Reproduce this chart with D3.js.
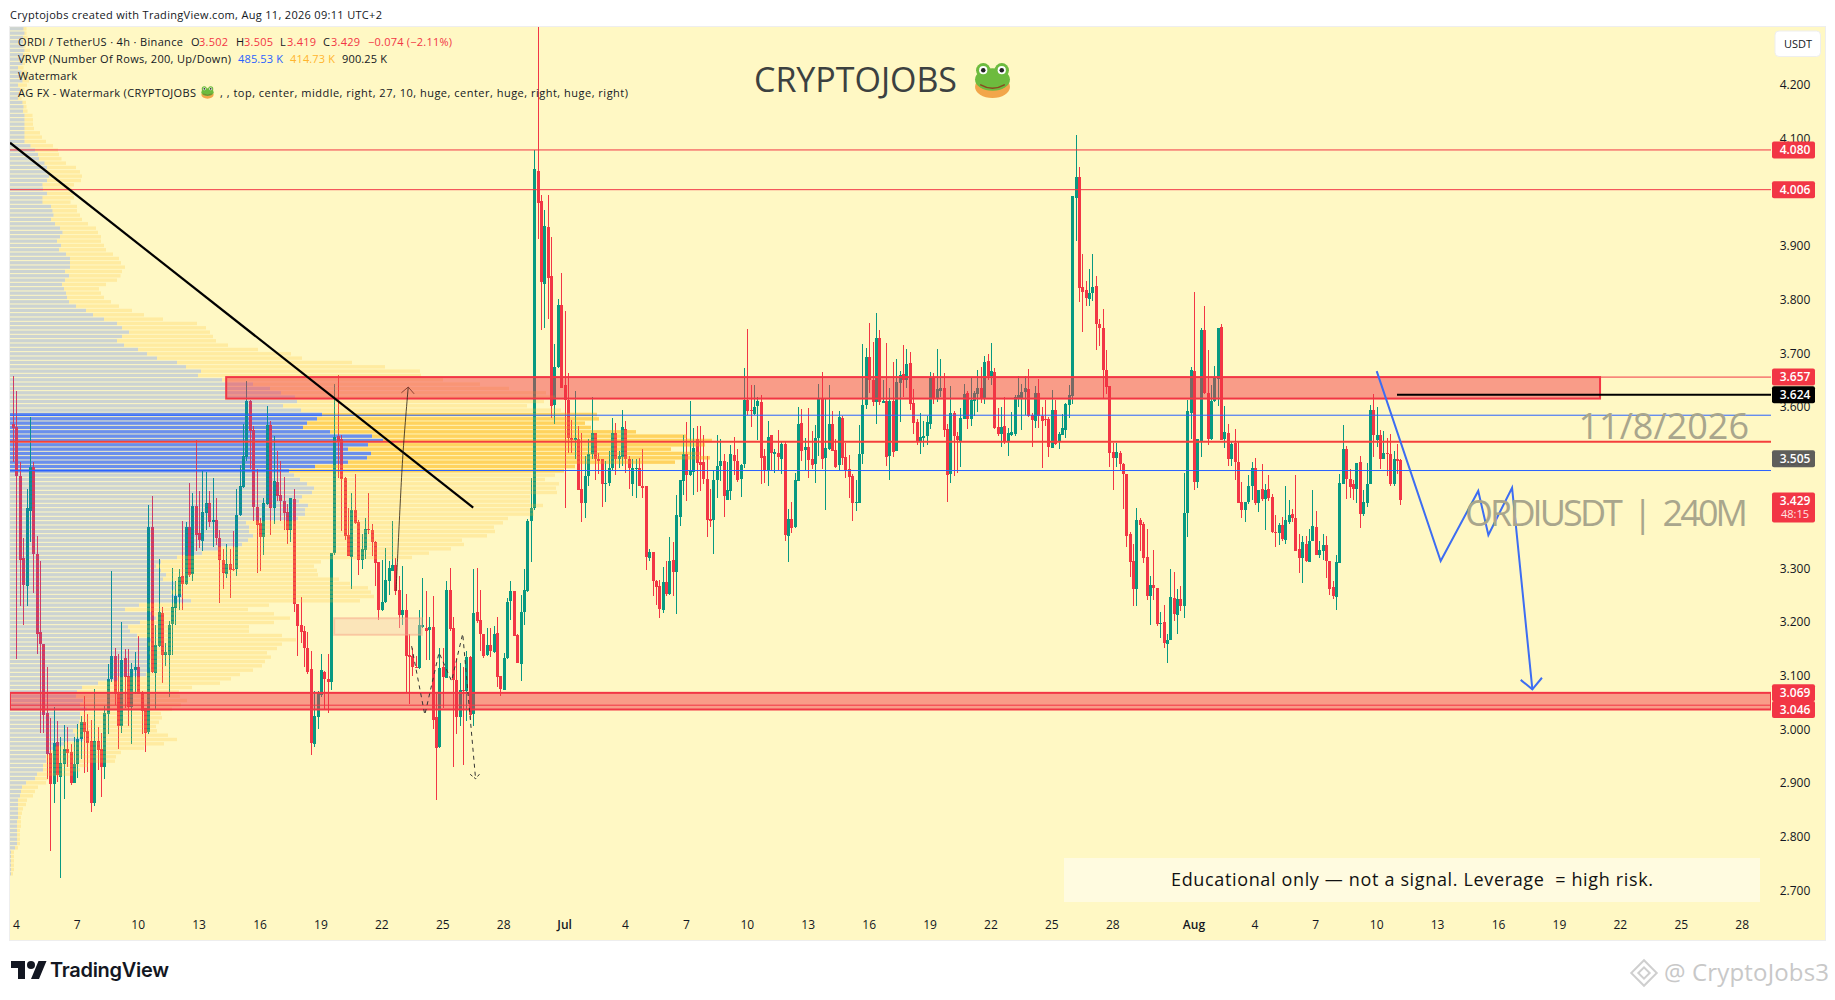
<!DOCTYPE html>
<html>
<head>
<meta charset="utf-8">
<title>ORDIUSDT 240M</title>
<script src="https://cdn.jsdelivr.net/npm/d3@7"></script>
<style>
  html, body { margin: 0; padding: 0; background: #fff; overflow: hidden; }
  text { font-family: "Open Sans", sans-serif; white-space: pre; }
</style>
</head>
<body>
<div id="chart"></div>
<script>
// 4h candles, bar 0 is the last bar of June 3
const candleOpen = [
  3.570,3.564,3.473,3.321,3.268,3.408,3.490,3.328,3.182,3.160,
  3.031,2.957,2.900,2.977,2.913,2.936,2.965,2.958,2.901,2.937,
  2.983,3.014,2.998,2.979,2.864,2.979,2.964,2.931,3.030,3.095,
  3.137,3.066,3.008,3.133,3.100,3.042,3.111,3.117,3.068,3.041,
  2.996,3.378,3.106,3.156,3.218,3.140,3.140,3.198,3.227,3.248,
  3.286,3.271,3.378,3.290,3.417,3.367,3.352,3.403,3.422,3.387,
  3.391,3.358,3.316,3.291,3.309,3.300,3.299,3.401,3.452,3.508,
  3.612,3.558,3.416,3.385,3.360,3.420,3.568,3.414,3.462,3.437,
  3.427,3.406,3.372,3.430,3.235,3.196,3.184,3.153,3.113,2.974,
  3.024,3.065,3.108,3.094,3.090,3.329,3.547,3.541,3.470,3.363,
  3.322,3.409,3.387,3.316,3.335,3.375,3.373,3.349,3.313,3.224,
  3.238,3.277,3.296,3.308,3.260,3.214,3.224,3.140,3.137,3.118,
  3.116,3.192,3.190,3.186,3.191,3.024,2.968,3.117,3.097,3.260,
  3.190,3.093,3.024,3.075,3.072,3.136,3.030,3.219,3.204,3.178,
  3.139,3.159,3.145,3.180,3.100,3.075,3.134,3.240,3.259,3.176,
  3.122,3.219,3.259,3.389,3.414,4.041,3.984,3.831,3.936,3.845,
  3.605,3.676,3.791,3.642,3.615,3.543,3.540,3.541,3.448,3.423,
  3.473,3.513,3.552,3.504,3.504,3.457,3.460,3.487,3.553,3.504,
  3.508,3.561,3.504,3.457,3.485,3.488,3.455,3.454,3.320,3.332,
  3.277,3.268,3.223,3.276,3.253,3.316,3.294,3.396,3.463,3.514,
  3.474,3.480,3.541,3.499,3.498,3.468,3.393,3.391,3.465,3.491,
  3.501,3.429,3.445,3.512,3.501,3.468,3.495,3.615,3.596,3.589,
  3.603,3.611,3.510,3.484,3.549,3.514,3.515,3.505,3.532,3.361,
  3.392,3.378,3.463,3.571,3.521,3.527,3.504,3.496,3.544,3.617,
  3.507,3.524,3.569,3.521,3.494,3.581,3.508,3.485,3.473,3.423,
  3.423,3.514,3.605,3.694,3.652,3.611,3.729,3.609,3.612,3.510,
  3.612,3.519,3.646,3.662,3.652,3.683,3.609,3.573,3.538,3.543,
  3.547,3.570,3.655,3.616,3.631,3.636,3.560,3.476,3.591,3.547,
  3.538,3.579,3.627,3.579,3.612,3.625,3.636,3.617,3.687,3.659,
  3.666,3.564,3.551,3.566,3.538,3.549,3.551,3.618,3.618,3.629,
  3.635,3.586,3.575,3.627,3.584,3.579,3.579,3.525,3.596,3.538,
  3.549,3.558,3.605,3.622,3.991,4.029,3.824,3.819,3.803,3.813,
  3.826,3.755,3.748,3.670,3.640,3.517,3.507,3.515,3.495,3.476,
  3.365,3.314,3.263,3.390,3.384,3.322,3.250,3.269,3.264,3.198,
  3.201,3.160,3.168,3.246,3.214,3.244,3.231,3.404,3.590,3.668,
  3.462,3.538,3.745,3.627,3.542,3.612,3.654,3.750,3.542,3.552,
  3.504,3.535,3.499,3.424,3.410,3.424,3.454,3.488,3.422,3.448,
  3.430,3.448,3.434,3.369,3.366,3.382,3.354,3.388,3.402,3.394,
  3.337,3.320,3.347,3.313,3.351,3.377,3.326,3.334,3.344,3.314,
  3.267,3.248,3.311,3.458,3.523,3.468,3.457,3.449,3.498,3.402,
  3.422,3.457,3.595,3.539,3.549,3.504,3.515,3.513,3.458,3.505,3.502
];
const candleHigh = [
  3.659,3.631,3.498,3.358,3.448,3.583,3.498,3.361,3.314,3.160,
  3.117,3.023,3.042,3.016,2.987,3.009,3.006,2.973,2.987,3.011,
  3.025,3.064,3.029,3.019,3.076,3.005,2.995,3.044,3.122,3.296,
  3.152,3.141,3.201,3.150,3.150,3.125,3.145,3.175,3.073,3.041,
  3.419,3.435,3.196,3.319,3.229,3.162,3.203,3.301,3.277,3.299,
  3.389,3.388,3.460,3.442,3.539,3.445,3.482,3.481,3.445,3.470,
  3.432,3.373,3.336,3.347,3.336,3.370,3.449,3.494,3.569,3.650,
  3.614,3.566,3.485,3.395,3.431,3.603,3.575,3.547,3.519,3.501,
  3.471,3.420,3.431,3.448,3.235,3.247,3.193,3.183,3.147,3.072,
  3.072,3.142,3.109,3.142,3.329,3.645,3.661,3.549,3.471,3.414,
  3.441,3.476,3.390,3.364,3.395,3.441,3.383,3.352,3.313,3.316,
  3.339,3.314,3.389,3.321,3.286,3.305,3.254,3.178,3.153,3.137,
  3.224,3.283,3.259,3.211,3.250,3.066,3.152,3.153,3.277,3.302,
  3.210,3.134,3.125,3.117,3.147,3.137,3.299,3.301,3.260,3.178,
  3.190,3.190,3.193,3.210,3.100,3.144,3.245,3.277,3.259,3.178,
  3.252,3.299,3.392,3.470,4.080,4.338,3.996,3.968,3.996,3.917,
  3.718,3.802,3.850,3.781,3.665,3.578,3.632,3.566,3.553,3.510,
  3.541,3.620,3.553,3.516,3.504,3.501,3.520,3.581,3.572,3.519,
  3.595,3.575,3.510,3.504,3.504,3.507,3.524,3.454,3.336,3.332,
  3.280,3.280,3.303,3.314,3.359,3.350,3.438,3.466,3.549,3.573,
  3.612,3.563,3.566,3.566,3.550,3.510,3.448,3.482,3.550,3.541,
  3.513,3.498,3.530,3.545,3.524,3.496,3.674,3.747,3.642,3.643,
  3.620,3.623,3.524,3.576,3.550,3.523,3.558,3.537,3.538,3.412,
  3.424,3.478,3.601,3.597,3.543,3.599,3.557,3.568,3.645,3.666,
  3.617,3.642,3.594,3.541,3.594,3.584,3.535,3.512,3.477,3.466,
  3.568,3.718,3.712,3.757,3.722,3.776,3.745,3.651,3.720,3.636,
  3.686,3.690,3.668,3.717,3.709,3.704,3.635,3.579,3.590,3.576,
  3.584,3.666,3.665,3.709,3.690,3.665,3.569,3.640,3.594,3.554,
  3.599,3.644,3.631,3.655,3.631,3.671,3.676,3.696,3.700,3.720,
  3.674,3.599,3.601,3.620,3.562,3.592,3.624,3.659,3.644,3.659,
  3.672,3.590,3.640,3.654,3.601,3.615,3.583,3.633,3.615,3.555,
  3.588,3.609,3.642,3.994,4.107,4.049,3.886,3.836,3.858,3.886,
  3.845,3.766,3.784,3.708,3.640,3.535,3.535,3.520,3.497,3.477,
  3.369,3.346,3.413,3.394,3.387,3.374,3.287,3.335,3.264,3.220,
  3.233,3.179,3.299,3.294,3.263,3.268,3.478,3.615,3.676,3.816,
  3.542,3.748,3.789,3.708,3.642,3.678,3.748,3.756,3.603,3.570,
  3.538,3.560,3.537,3.462,3.424,3.474,3.499,3.507,3.447,3.495,
  3.458,3.475,3.440,3.400,3.386,3.396,3.454,3.428,3.412,3.474,
  3.364,3.361,3.361,3.375,3.447,3.408,3.351,3.365,3.362,3.314,
  3.277,3.326,3.477,3.568,3.529,3.485,3.466,3.497,3.510,3.447,
  3.497,3.605,3.625,3.601,3.558,3.557,3.543,3.551,3.520,3.532,3.505
];
const candleLow = [
  3.498,3.132,3.231,3.195,3.231,3.350,3.255,3.142,2.995,2.995,
  2.908,2.774,2.864,2.903,2.724,2.872,2.931,2.898,2.901,2.911,
  2.945,2.920,2.922,2.847,2.859,2.926,2.875,2.909,2.993,3.090,
  3.046,2.964,2.995,3.041,3.007,2.974,3.066,3.066,2.993,2.959,
  2.993,3.106,3.038,3.154,3.088,3.119,3.061,3.140,3.195,3.224,
  3.224,3.270,3.285,3.277,3.334,3.338,3.334,3.372,3.377,3.340,
  3.344,3.237,3.262,3.283,3.245,3.296,3.286,3.398,3.450,3.501,
  3.485,3.389,3.293,3.296,3.325,3.419,3.363,3.383,3.426,3.389,
  3.373,3.347,3.350,3.220,3.137,3.162,3.117,3.104,2.953,2.968,
  3.002,3.062,3.038,3.032,3.075,3.326,3.470,3.370,3.354,3.324,
  3.263,3.383,3.288,3.299,3.319,3.364,3.324,3.268,3.204,3.221,
  3.237,3.252,3.296,3.252,3.189,3.196,3.069,3.049,3.100,3.116,
  3.114,3.190,3.131,3.131,3.001,2.869,2.967,3.041,3.097,3.185,
  2.931,2.993,3.007,2.934,3.016,3.019,3.007,3.199,3.147,3.134,
  3.137,3.136,3.144,3.080,3.064,3.074,3.132,3.204,3.174,3.125,
  3.091,3.196,3.257,3.313,3.410,3.914,3.745,3.749,3.766,3.580,
  3.569,3.674,3.636,3.414,3.516,3.516,3.504,3.446,3.387,3.395,
  3.454,3.504,3.466,3.476,3.415,3.424,3.454,3.482,3.474,3.488,
  3.491,3.479,3.448,3.435,3.432,3.454,3.432,3.297,3.314,3.249,
  3.232,3.209,3.218,3.249,3.252,3.249,3.216,3.379,3.437,3.426,
  3.473,3.438,3.443,3.445,3.458,3.359,3.378,3.328,3.432,3.463,
  3.396,3.428,3.428,3.474,3.461,3.434,3.488,3.586,3.564,3.586,
  3.540,3.457,3.460,3.454,3.483,3.479,3.483,3.477,3.352,3.313,
  3.367,3.376,3.463,3.501,3.483,3.470,3.485,3.460,3.510,3.486,
  3.409,3.522,3.519,3.487,3.483,3.494,3.470,3.432,3.389,3.407,
  3.423,3.496,3.598,3.627,3.604,3.570,3.605,3.609,3.491,3.465,
  3.508,3.519,3.574,3.620,3.637,3.596,3.551,3.530,3.514,3.527,
  3.530,3.561,3.606,3.611,3.620,3.545,3.424,3.460,3.473,3.478,
  3.489,3.579,3.560,3.566,3.584,3.592,3.609,3.607,3.651,3.642,
  3.560,3.547,3.527,3.532,3.510,3.547,3.547,3.601,3.558,3.586,
  3.583,3.527,3.562,3.562,3.488,3.566,3.508,3.525,3.530,3.523,
  3.549,3.543,3.581,3.607,3.910,3.797,3.741,3.789,3.789,3.799,
  3.708,3.715,3.617,3.625,3.490,3.447,3.490,3.482,3.412,3.341,
  3.284,3.231,3.231,3.334,3.311,3.241,3.196,3.241,3.194,3.172,
  3.152,3.124,3.168,3.203,3.178,3.222,3.208,3.360,3.542,3.446,
  3.450,3.509,3.625,3.531,3.540,3.610,3.603,3.540,3.525,3.492,
  3.492,3.466,3.422,3.394,3.387,3.420,3.428,3.419,3.406,3.427,
  3.372,3.427,3.366,3.341,3.345,3.352,3.346,3.384,3.387,3.333,
  3.292,3.274,3.313,3.313,3.351,3.326,3.321,3.317,3.283,3.251,
  3.243,3.224,3.311,3.457,3.430,3.432,3.428,3.422,3.376,3.398,
  3.416,3.457,3.509,3.527,3.485,3.504,3.472,3.455,3.455,3.477,3.419
];
const candleClose = [
  3.563,3.472,3.316,3.270,3.413,3.490,3.328,3.179,3.160,3.027,
  2.955,2.900,2.975,2.916,2.938,2.965,2.957,2.901,2.936,2.983,
  3.014,2.996,2.976,2.864,2.979,2.963,2.931,3.031,3.095,3.137,
  3.066,3.008,3.131,3.099,3.042,3.113,3.117,3.066,3.036,2.995,
  3.378,3.108,3.158,3.219,3.140,3.145,3.196,3.229,3.249,3.285,
  3.271,3.378,3.288,3.417,3.363,3.353,3.406,3.422,3.387,3.391,
  3.358,3.316,3.293,3.309,3.298,3.298,3.401,3.454,3.510,3.612,
  3.557,3.416,3.382,3.360,3.422,3.568,3.414,3.463,3.435,3.426,
  3.403,3.372,3.431,3.235,3.193,3.182,3.153,3.108,2.976,3.026,
  3.069,3.111,3.094,3.090,3.329,3.546,3.538,3.467,3.362,3.324,
  3.409,3.386,3.316,3.336,3.375,3.372,3.349,3.310,3.224,3.238,
  3.279,3.301,3.308,3.259,3.214,3.223,3.137,3.136,3.117,3.116,
  3.195,3.195,3.185,3.191,3.019,2.967,3.116,3.099,3.260,3.188,
  3.092,3.024,3.074,3.072,3.136,3.027,3.218,3.203,3.178,3.138,
  3.159,3.147,3.179,3.098,3.077,3.134,3.238,3.259,3.175,3.125,
  3.220,3.260,3.389,3.413,4.045,3.982,3.835,3.938,3.842,3.603,
  3.676,3.792,3.637,3.614,3.544,3.540,3.544,3.446,3.423,3.473,
  3.513,3.553,3.504,3.501,3.458,3.460,3.487,3.553,3.504,3.510,
  3.564,3.504,3.488,3.488,3.488,3.455,3.451,3.322,3.332,3.277,
  3.266,3.225,3.275,3.253,3.314,3.294,3.400,3.466,3.514,3.474,
  3.482,3.525,3.497,3.494,3.468,3.391,3.389,3.465,3.491,3.501,
  3.435,3.447,3.514,3.501,3.465,3.494,3.615,3.594,3.594,3.601,
  3.612,3.507,3.484,3.545,3.516,3.518,3.508,3.532,3.363,3.392,
  3.376,3.465,3.569,3.519,3.527,3.503,3.494,3.543,3.617,3.505,
  3.525,3.569,3.519,3.489,3.583,3.507,3.484,3.471,3.423,3.424,
  3.514,3.605,3.694,3.652,3.611,3.729,3.611,3.612,3.508,3.612,
  3.517,3.648,3.661,3.652,3.681,3.607,3.571,3.538,3.545,3.548,
  3.573,3.655,3.617,3.635,3.636,3.559,3.475,3.591,3.547,3.540,
  3.581,3.625,3.579,3.614,3.627,3.636,3.617,3.685,3.659,3.668,
  3.562,3.551,3.564,3.538,3.552,3.555,3.620,3.624,3.629,3.636,
  3.584,3.577,3.627,3.584,3.575,3.577,3.527,3.596,3.532,3.551,
  3.562,3.607,3.624,3.994,4.029,3.823,3.816,3.804,3.813,3.825,
  3.755,3.748,3.671,3.638,3.515,3.507,3.517,3.495,3.476,3.362,
  3.313,3.263,3.390,3.382,3.321,3.250,3.269,3.264,3.198,3.200,
  3.162,3.167,3.248,3.216,3.244,3.231,3.404,3.593,3.670,3.462,
  3.542,3.745,3.627,3.542,3.613,3.656,3.748,3.540,3.555,3.504,
  3.533,3.499,3.422,3.410,3.424,3.454,3.488,3.422,3.447,3.430,
  3.447,3.432,3.369,3.367,3.382,3.355,3.390,3.400,3.394,3.334,
  3.320,3.349,3.314,3.351,3.379,3.326,3.335,3.344,3.314,3.263,
  3.250,3.313,3.459,3.523,3.468,3.453,3.449,3.497,3.402,3.424,
  3.458,3.595,3.550,3.549,3.505,3.515,3.513,3.458,3.505,3.501,3.429
];

// volume profile rows, top row first, volumes in thousands (estimated)
const vrvpUp = [
  .27,.29,.26,.26,.27,.29,.26,.25,.25,.16,.23,.21,.25,.16,.20,.18,.16,.25,.27,.26,
  .29,.29,.29,.29,.29,.29,.29,.41,.50,.56,.58,.69,.74,.74,.78,.74,.65,.66,.74,.65,
  .65,.82,.85,.87,.82,.90,1.00,1.05,1.00,.94,1.02,.98,1.12,1.20,1.20,1.20,1.10,1.18,1.10,1.04,
  1.08,1.12,1.14,1.18,1.32,1.52,1.66,1.88,2.14,2.24,2.38,2.24,2.14,2.28,2.56,2.74,2.94,3.34,3.52,3.82,
  3.76,4.24,4.86,5.20,5.42,5.70,5.74,5.46,5.82,
  6.24,6.14,5.94,5.86,6.40,7.24,7.46,7.16,6.76,7.22,7.14,6.76,6.10,
  5.58,5.68,5.80,5.94,6.08,6.04,5.84,5.78,5.96,5.90,5.90,5.76,4.72,4.78,4.78,4.86,4.76,4.64,4.16,3.84,3.34,
  3.02,2.92,3.02,3.12,3.06,3.30,3.30,3.22,3.44,3.62,2.58,2.30,2.84,2.92,2.60,2.36,2.40,2.54,2.82,2.76,
  2.80,2.78,2.80,2.78,2.78,2.80,2.72,2.16,1.76,1.44,
  1.34,1.32,1.46,1.40,1.54,1.40,1.40,1.38,1.36,1.26,1.30,1.46,1.08,.90,.80,.72,.72,.66,.66,.54,
  .50,.32,.24,.22,.20,.16,.16,.16,.16,.16,.14,.14,.14,.14,.14,.14,.10,.02,.02,.02,.02,.02,.02
];
const vrvpDown = [
  .06,.04,.09,.05,.04,.11,.12,.09,.05,.11,.11,.17,.13,.18,.09,.09,.07,.07,.06,.09,
  .16,.17,.17,.19,.31,.35,.43,.45,.46,.42,.45,.43,.58,.66,.66,.68,.63,.57,.53,.63,
  .56,.52,.49,.53,.62,.66,.72,.71,.82,.88,.86,.94,.94,.98,1.02,1.10,1.14,1.03,1.04,.88,
  .70,.70,.74,.84,.86,.92,1.02,1.18,1.60,1.68,1.62,1.82,1.98,2.08,2.40,2.88,2.90,3.50,3.98,4.38,
  4.46,4.42,4.54,4.78,5.30,5.20,4.94,4.88,5.20,
  5.50,5.64,5.56,5.76,6.12,6.30,6.58,6.74,6.46,6.58,6.86,6.54,5.20,
  5.50,5.22,4.90,5.04,4.84,4.90,4.56,4.62,4.70,4.58,4.58,4.20,5.14,4.90,4.92,4.68,4.28,4.44,4.66,4.54,4.70,
  3.20,3.16,3.12,3.04,3.52,3.50,3.86,4.00,3.84,3.38,2.60,2.46,2.44,2.68,2.68,2.42,2.38,2.90,2.90,2.68,
  2.54,2.36,2.42,2.32,2.26,2.06,1.88,2.26,2.44,2.20,
  2.04,2.08,2.08,2.02,1.70,1.62,1.64,1.60,1.56,1.68,1.86,1.88,2.00,1.78,1.42,1.40,1.38,.90,.74,.72,
  .26,.40,.32,.28,.26,.18,.16,.10,.08,.06,.08,.08,.06,.06,.06,.06,.06,.06,.06,.06,.06,.06,.04
];
const vrvpBottomPrice = 2.727;
const vrvpRowStep = 0.00807;
const vrvpValueAreaTop = 3.589;    // rows inside this band are the value area
const vrvpValueAreaBottom = 3.481;

const priceTicks = [4.2,4.1,4.0,3.9,3.8,3.7,3.6,3.5,3.4,3.3,3.2,3.1,3.0,2.9,2.8,2.7];
const xTickDays = [0,3,6,9,12,15,18,21,24,27,30,33,36,39,42,45,48,51,54,58,61,64,67,70,73,76,79,82,85];
const xTickLabels = ['4','7','10','13','16','19','22','25','28','Jul','4','7','10','13','16','19','22','25','28','Aug','4','7','10','13','16','19','22','25','28'];

// horizontal levels and the two boxes
const redLevels = [4.080, 4.006];
const blueLevels = [3.586, 3.483];
const thickRedLevel = 3.5367;
const blackLevel = 3.624;
const upperZone = { top: 3.657, bottom: 3.617, fromBar: 63, toBar: 469 };
const lowerZone = { top: 3.069, bottom: 3.038, inner: 3.046 };
const paleBox = { top: 3.208, bottom: 3.177, fromBar: 94.9, toBar: 120.8 };

// hand drawn lines, [bar, price]
const trendLine = [[-0.9, 4.0935], [136, 3.414]];
const thinArrow = [[113.2, 3.2587], [115.2, 3.51], [116.8, 3.6385]];
const dashedPath = [[117.8, 3.156], [121.7, 3.028], [125.9, 3.144], [129.6, 3.091], [132.9, 3.179], [136.7, 2.909]];
const bluePath = [[403, 3.668], [421.9, 3.3145], [433, 3.445], [436, 3.363], [443, 3.451], [449, 3.0756]];

const RED = '#f23645', GREEN = '#089981', BLUE = '#2962ff';
const PLOT = { left: 10, right: 1771, top: 27, bottom: 905 };

const priceScale = d3.scaleLinear().domain([2.7, 4.2]).range([891, 85.5]);
const barScale = d3.scaleLinear().domain([0, 410]).range([13, 1400.4]);
const volumeScale = d3.scaleLinear().domain([0, 14.04]).range([10, 712]);

const svg = d3.select('#chart').append('svg')
  .attr('width', 1835).attr('height', 1000)
  .style('display', 'block');

svg.append('defs').append('clipPath').attr('id', 'plot')
  .append('rect')
  .attr('x', PLOT.left).attr('y', PLOT.top)
  .attr('width', PLOT.right - PLOT.left).attr('height', PLOT.bottom - PLOT.top);

// pane background
svg.append('rect')
  .attr('x', 9.5).attr('y', 26.5).attr('width', 1816).attr('height', 914)
  .attr('fill', '#fff8c4').attr('stroke', '#eeeeee');

const pane = svg.append('g').attr('clip-path', 'url(#plot)');

// profile rows, built once from the arrays
const vrvpRows = vrvpUp.map((up, i) => {
  const fromBottom = vrvpUp.length - 1 - i;
  const top = vrvpBottomPrice + (fromBottom + 1) * vrvpRowStep;
  const mid = top - vrvpRowStep / 2;
  return {
    top, up, down: vrvpDown[i],
    inValueArea: mid <= vrvpValueAreaTop && mid >= vrvpValueAreaBottom
  };
});
const rowHeight = priceScale(0) - priceScale(vrvpRowStep) - 1;

function drawRows(layer, rows, upColor, downColor) {
  layer.selectAll('rect.up').data(rows).enter().append('rect')
    .attr('class', 'up')
    .attr('x', volumeScale(0))
    .attr('y', d => priceScale(d.top))
    .attr('width', d => volumeScale(d.up) - volumeScale(0))
    .attr('height', rowHeight)
    .attr('fill', upColor);
  layer.selectAll('rect.down').data(rows).enter().append('rect')
    .attr('class', 'down')
    .attr('x', d => volumeScale(d.up))
    .attr('y', d => priceScale(d.top))
    .attr('width', d => volumeScale(d.down) - volumeScale(0))
    .attr('height', rowHeight)
    .attr('fill', downColor);
}

// value area gets a stronger layer under the candles, everything gets a thin one on top
drawRows(pane.append('g'), vrvpRows.filter(d => d.inValueArea), 'rgba(41,98,255,0.6)', 'rgba(255,195,50,0.6)');

const candles = candleOpen.map((open, i) => ({
  i, open, high: candleHigh[i], low: candleLow[i], close: candleClose[i]
}));
const candleColor = d => d.close >= d.open ? GREEN : RED;

const candleLayer = pane.append('g').attr('shape-rendering', 'crispEdges');
candleLayer.selectAll('rect.wick').data(candles).enter().append('rect')
  .attr('class', 'wick')
  .attr('x', d => Math.round(barScale(d.i)))
  .attr('y', d => priceScale(d.high))
  .attr('width', 1)
  .attr('height', d => priceScale(d.low) - priceScale(d.high))
  .attr('fill', candleColor);
candleLayer.selectAll('rect.body').data(candles).enter().append('rect')
  .attr('class', 'body')
  .attr('x', d => Math.round(barScale(d.i)) - 1)
  .attr('y', d => priceScale(Math.max(d.open, d.close)))
  .attr('width', 3)
  .attr('height', d => Math.max(1, Math.abs(priceScale(d.open) - priceScale(d.close))))
  .attr('fill', candleColor);

drawRows(pane.append('g'), vrvpRows, 'rgba(41,98,255,0.24)', 'rgba(255,195,50,0.25)');

// pale box
pane.append('rect')
  .attr('x', barScale(paleBox.fromBar)).attr('y', priceScale(paleBox.top))
  .attr('width', barScale(paleBox.toBar) - barScale(paleBox.fromBar))
  .attr('height', priceScale(paleBox.bottom) - priceScale(paleBox.top))
  .attr('fill', 'rgba(244,200,170,0.4)')
  .attr('stroke', 'rgba(247,160,130,0.45)').attr('stroke-width', 2);

// zones
const zoneRightEdge = barScale(upperZone.toBar);
pane.append('rect')
  .attr('x', barScale(upperZone.fromBar)).attr('y', priceScale(upperZone.top))
  .attr('width', zoneRightEdge - barScale(upperZone.fromBar))
  .attr('height', priceScale(upperZone.bottom) - priceScale(upperZone.top))
  .attr('fill', 'rgba(242,54,69,0.47)').attr('stroke', RED).attr('stroke-width', 2);
pane.append('rect')
  .attr('x', PLOT.left).attr('y', priceScale(lowerZone.top))
  .attr('width', PLOT.right - PLOT.left)
  .attr('height', priceScale(lowerZone.bottom) - priceScale(lowerZone.top))
  .attr('fill', 'rgba(242,54,69,0.47)').attr('stroke', RED).attr('stroke-width', 2);

function hLine(price, color, width, x1, x2) {
  pane.append('line')
    .attr('x1', x1 === undefined ? PLOT.left : x1)
    .attr('x2', x2 === undefined ? PLOT.right : x2)
    .attr('y1', priceScale(price)).attr('y2', priceScale(price))
    .attr('stroke', color).attr('stroke-width', width);
}
redLevels.forEach(p => hLine(p, RED, 1));
blueLevels.forEach(p => hLine(p, BLUE, 1));
hLine(thickRedLevel, '#f4403c', 2);
hLine(lowerZone.inner, RED, 1);
hLine(upperZone.top, RED, 1, zoneRightEdge, PLOT.right);
hLine(blackLevel, '#000', 2, 1397, PLOT.right);

// drawings
const drawingLine = d3.line().x(d => barScale(d[0])).y(d => priceScale(d[1]));
function pathEnd(points) {
  const last = points[points.length - 1], prev = points[points.length - 2];
  const x = barScale(last[0]), y = priceScale(last[1]);
  return { x, y, angle: Math.atan2(y - priceScale(prev[1]), x - barScale(prev[0])) };
}
function arrowHead(points, size, color, width, dash, spread) {
  const end = pathEnd(points);
  const open = spread || 2.55;
  const wing = a => [end.x + size * Math.cos(end.angle + a), end.y + size * Math.sin(end.angle + a)];
  const w1 = wing(open), w2 = wing(-open);
  pane.append('path')
    .attr('d', `M${w1[0]},${w1[1]}L${end.x},${end.y}L${w2[0]},${w2[1]}`)
    .attr('fill', 'none').attr('stroke', color).attr('stroke-width', width)
    .attr('stroke-dasharray', dash || null);
}

pane.append('path').attr('d', drawingLine(trendLine))
  .attr('fill', 'none').attr('stroke', '#000').attr('stroke-width', 2.2);

pane.append('path').attr('d', d3.line().x(d => barScale(d[0])).y(d => priceScale(d[1])).curve(d3.curveCatmullRom)(thinArrow))
  .attr('fill', 'none').attr('stroke', 'rgba(40,30,20,0.8)').attr('stroke-width', 1);
arrowHead(thinArrow, 9, 'rgba(120,50,40,0.85)', 1, null, 2.35);

pane.append('path').attr('d', drawingLine(dashedPath))
  .attr('fill', 'none').attr('stroke', '#333').attr('stroke-width', 1).attr('stroke-dasharray', '4 4');
arrowHead(dashedPath, 7, '#333', 1, '3 2', 2.35);

pane.append('path').attr('d', drawingLine(bluePath))
  .attr('fill', 'none').attr('stroke', '#3d6df2').attr('stroke-width', 2);
arrowHead(bluePath, 15, '#3d6df2', 2, null, 2.35);

// watermarks
svg.append('text').attr('x', 1749).attr('y', 439)
  .attr('text-anchor', 'end').attr('font-size', 36).attr('fill', '#a9a68c')
  .text('11/8/2026');
svg.append('text').attr('x', 1465).attr('y', 526)
  .attr('font-size', 36).attr('fill', '#a9a68c')
  .attr('textLength', 283)
  .text('ORDIUSDT  |  240M');
svg.append('text').attr('x', 754).attr('y', 92)
  .attr('font-size', 34).attr('fill', '#3c4140').attr('textLength', 203)
  .text('CRYPTOJOBS');

function drawFrog(x, y, size) {
  const g = svg.append('g').attr('transform', `translate(${x},${y}) scale(${size / 36})`);
  g.append('ellipse').attr('cx', 18).attr('cy', 24).attr('rx', 17).attr('ry', 11).attr('fill', '#f2a64a');
  g.append('ellipse').attr('cx', 18).attr('cy', 17).attr('rx', 17).attr('ry', 11).attr('fill', '#6dbb3e');
  g.append('circle').attr('cx', 9).attr('cy', 8).attr('r', 7).attr('fill', '#6dbb3e');
  g.append('circle').attr('cx', 27).attr('cy', 8).attr('r', 7).attr('fill', '#6dbb3e');
  g.append('circle').attr('cx', 9).attr('cy', 8).attr('r', 4).attr('fill', '#fff');
  g.append('circle').attr('cx', 27).attr('cy', 8).attr('r', 4).attr('fill', '#fff');
  g.append('circle').attr('cx', 9).attr('cy', 8).attr('r', 2.2).attr('fill', '#222');
  g.append('circle').attr('cx', 27).attr('cy', 8).attr('r', 2.2).attr('fill', '#222');
  g.append('path').attr('d', 'M6 22 Q18 29 30 22').attr('fill', 'none').attr('stroke', '#8a4a20').attr('stroke-width', 1.4);
}
drawFrog(974, 62, 37);

// disclaimer
svg.append('rect').attr('x', 1064).attr('y', 858).attr('width', 696).attr('height', 44).attr('fill', '#fffbe0');
svg.append('text').attr('x', 1412).attr('y', 880).attr('dy', '.35em')
  .attr('text-anchor', 'middle').attr('font-size', 18).attr('fill', '#111').attr('textLength', 482)
  .text('Educational only — not a signal. Leverage  = high risk.');

// axes
const yAxis = svg.append('g').attr('transform', 'translate(1795,-1)')
  .call(d3.axisRight(priceScale).tickValues(priceTicks).tickSize(0).tickFormat(d3.format('.3f')));
const xAxis = svg.append('g').attr('transform', 'translate(-0.5,925)')
  .call(d3.axisBottom(barScale).tickValues(xTickDays.map(d => 1 + d * 6)).tickSize(0).tickFormat((d, i) => xTickLabels[i]));
[yAxis, xAxis].forEach(a => {
  a.select('.domain').remove();
  a.attr('font-family', null).attr('font-size', null);
  a.selectAll('text')
    .attr('x', 0).attr('y', 0).attr('dy', '.35em')
    .attr('text-anchor', 'middle')
    .attr('fill', '#131722')
    .style('font-size', '12px');
});
xAxis.selectAll('text').filter(function() { return /[A-Z]/.test(this.textContent); })
  .style('font-weight', 600);

// price tags on the scale
function priceTag(y, label, fill, opacity) {
  svg.append('rect').attr('x', 1772).attr('y', y - 8.5).attr('width', 43).attr('height', 17).attr('rx', 2)
    .attr('fill', fill).attr('opacity', opacity || 1);
  svg.append('text').attr('x', 1795).attr('y', y).attr('dy', '.35em').attr('text-anchor', 'middle')
    .attr('font-size', 12).attr('font-weight', 600).attr('fill', '#fff').text(label);
}
priceTag(priceScale(4.080), '4.080', RED);
priceTag(priceScale(4.006), '4.006', RED);
priceTag(priceScale(3.657), '3.657', RED);
priceTag(priceScale(3.624), '3.624', '#000');
priceTag(priceScale(3.505), '3.505', '#555', 0.95);
priceTag(priceScale(3.069), '3.069', RED);
priceTag(priceScale(lowerZone.bottom), '3.046', RED);
// last price with countdown
svg.append('rect').attr('x', 1772).attr('y', priceScale(3.429) - 7).attr('width', 43).attr('height', 30).attr('rx', 2).attr('fill', RED);
svg.append('text').attr('x', 1795).attr('y', priceScale(3.429) + 1).attr('dy', '.35em').attr('text-anchor', 'middle')
  .attr('font-size', 12).attr('font-weight', 600).attr('fill', '#fff').text('3.429');
svg.append('text').attr('x', 1795).attr('y', priceScale(3.429) + 15).attr('dy', '.35em').attr('text-anchor', 'middle')
  .attr('font-size', 11).attr('fill', '#ffe3e3').text('48:15');

// USDT button
svg.append('rect').attr('x', 1775).attr('y', 31).attr('width', 45.5).attr('height', 25.5).attr('rx', 4)
  .attr('fill', '#fff').attr('stroke', '#eeeeee');
svg.append('text').attr('x', 1798).attr('y', 44).attr('dy', '.35em').attr('text-anchor', 'middle')
  .attr('font-size', 11).attr('fill', '#131722').text('USDT');

// header and legend
svg.append('text').attr('x', 10).attr('y', 15).attr('dy', '.35em')
  .attr('font-size', 11).attr('fill', '#131722').attr('textLength', 372)
  .text('Cryptojobs created with TradingView.com, Aug 11, 2026 09:11 UTC+2');

function legendRow(y, parts) {
  parts.forEach(p => {
    svg.append('text').attr('x', p.x).attr('y', y).attr('dy', '.35em')
      .attr('font-size', 11).attr('fill', p.color || '#131722')
      .attr('textLength', p.len)
      .text(p.text);
  });
}
legendRow(41.7, [
  { x: 18, len: 165, text: 'ORDI / TetherUS · 4h · Binance' },
  { x: 191, len: 8, text: 'O' }, { x: 199, len: 29, text: '3.502', color: RED },
  { x: 236, len: 8, text: 'H' }, { x: 244, len: 29, text: '3.505', color: RED },
  { x: 280, len: 7, text: 'L' }, { x: 287, len: 29, text: '3.419', color: RED },
  { x: 323, len: 7, text: 'C' }, { x: 331, len: 29, text: '3.429', color: RED },
  { x: 368, len: 84, text: '−0.074 (−2.11%)', color: RED }
]);
legendRow(59, [
  { x: 18, len: 213, text: 'VRVP (Number Of Rows, 200, Up/Down)' },
  { x: 238, len: 45, text: '485.53 K', color: BLUE },
  { x: 290, len: 45, text: '414.73 K', color: '#ffb52e' },
  { x: 342, len: 45, text: '900.25 K' }
]);
legendRow(76, [{ x: 18, len: 59, text: 'Watermark' }]);
legendRow(93, [
  { x: 18, len: 178, text: 'AG FX - Watermark (CRYPTOJOBS' },
  { x: 220, len: 408, text: ', , top, center, middle, right, 27, 10, huge, center, huge, right, huge, right)' }
]);
drawFrog(201, 86, 13);

// footer
const logo = svg.append('g').attr('transform', 'translate(11,961)').attr('fill', '#131722');
logo.append('path').attr('d', 'M14 18H7V7H0V0h14v18zM28 18h-8L27.5 0h8L28 18z');
logo.append('circle').attr('cx', 20).attr('cy', 4).attr('r', 4);
svg.append('text').attr('x', 50).attr('y', 970).attr('dy', '.35em')
  .attr('font-size', 20).attr('font-weight', 600).attr('fill', '#131722')
  .style('font-family', 'Inter').attr('textLength', 119)
  .text('TradingView');

const badge = svg.append('g').attr('transform', 'translate(1644,973)').attr('fill', 'none').attr('stroke', '#cfcfcf').attr('stroke-width', 2);
badge.append('rect').attr('x', -9).attr('y', -9).attr('width', 18).attr('height', 18).attr('transform', 'rotate(45)');
badge.append('rect').attr('x', -4).attr('y', -4).attr('width', 8).attr('height', 8).attr('transform', 'rotate(45)');
svg.append('text').attr('x', 1664).attr('y', 973).attr('dy', '.35em')
  .attr('font-size', 24).attr('fill', '#c8c8c8').attr('textLength', 165)
  .text('@ CryptoJobs3');
</script>
</body>
</html>
